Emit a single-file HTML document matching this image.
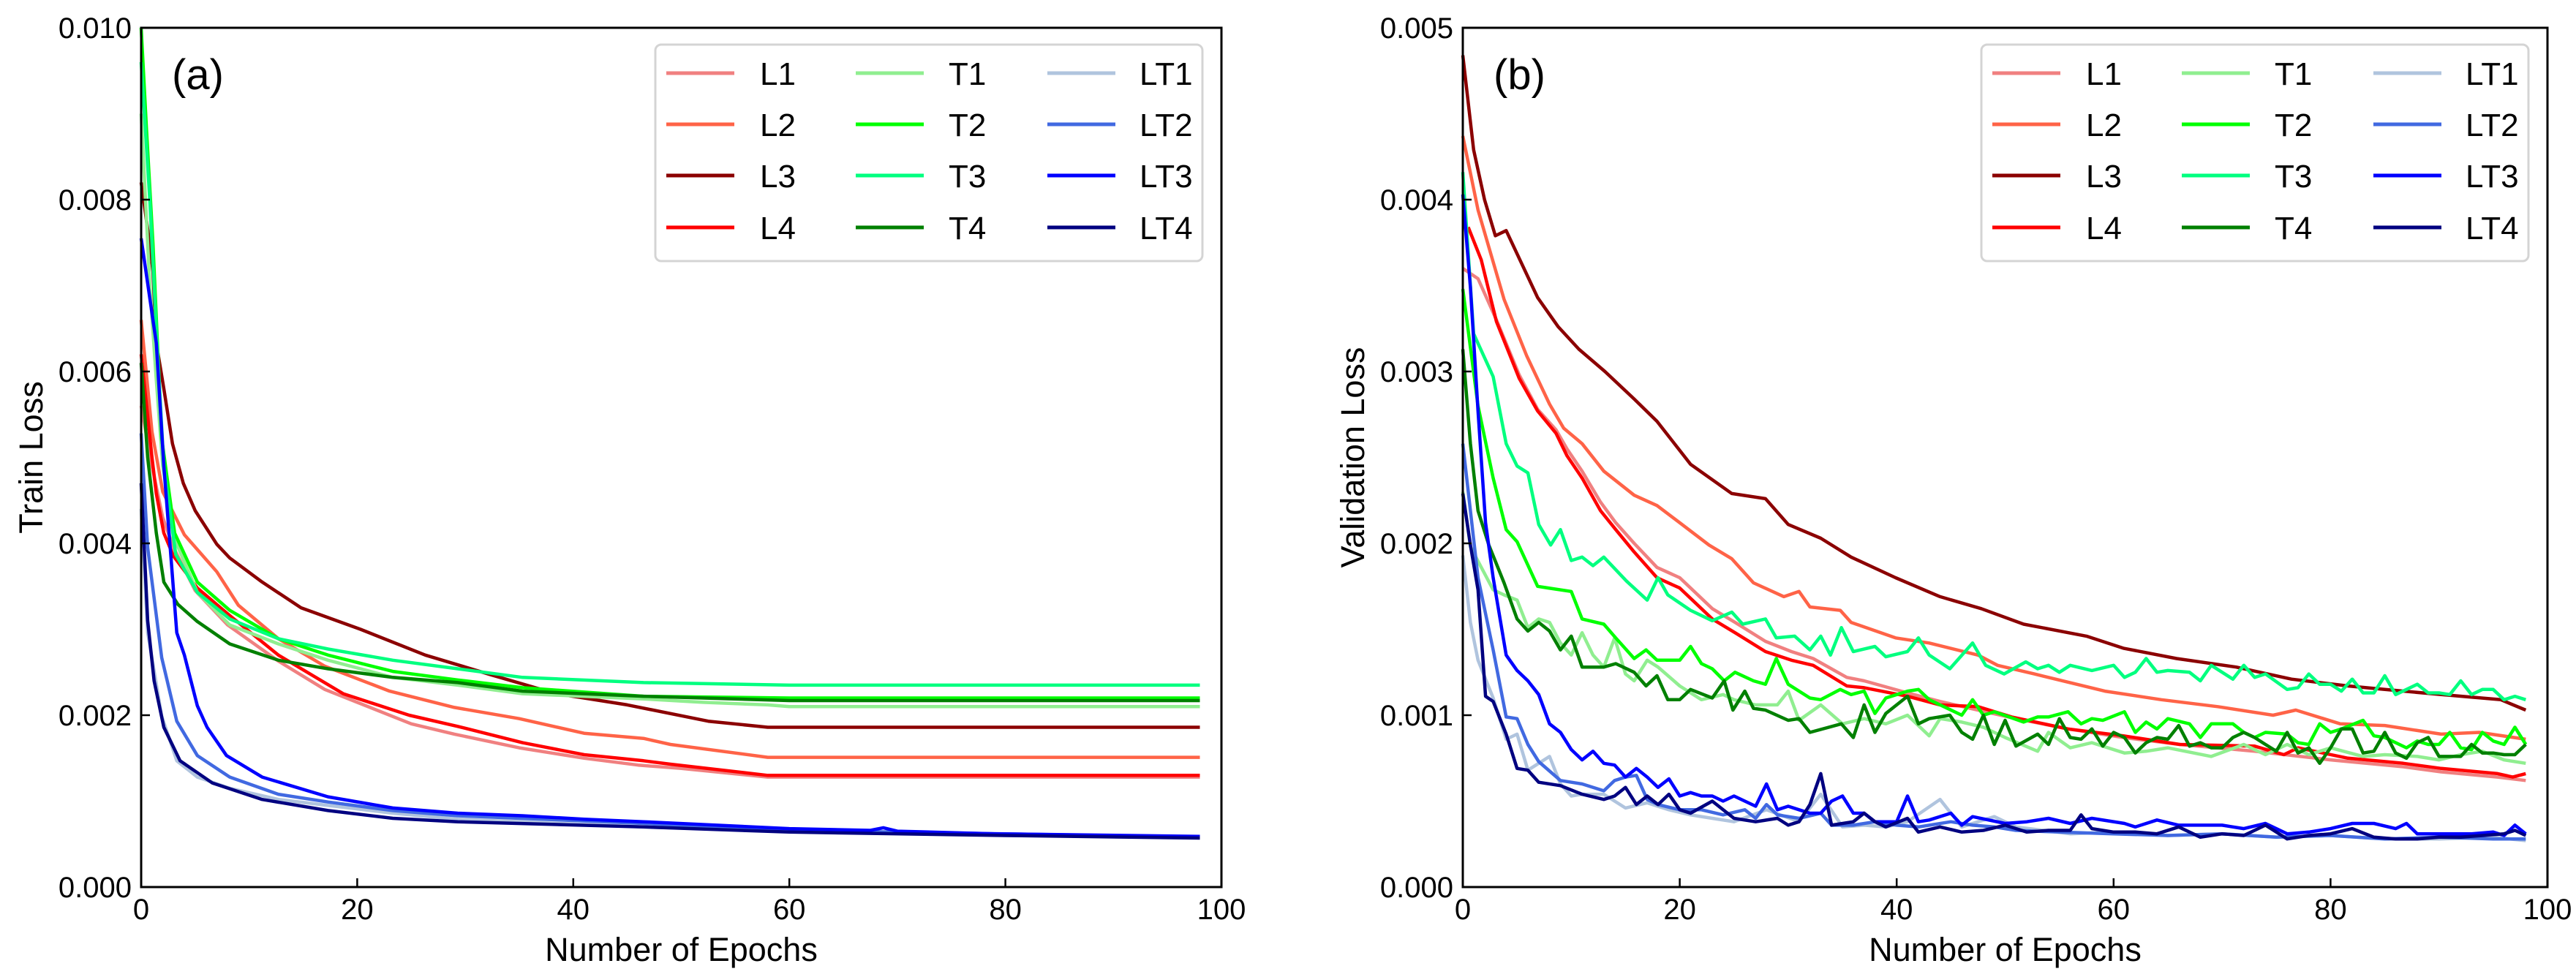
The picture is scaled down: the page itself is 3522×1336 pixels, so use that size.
<!DOCTYPE html>
<html><head><meta charset="utf-8"><style>
html,body{margin:0;padding:0;background:#fff;}
svg{display:block;font-family:"Liberation Sans",sans-serif;}
</style></head><body>
<svg id="fig" width="3522" height="1336" viewBox="0 0 3522 1336" xmlns="http://www.w3.org/2000/svg"></svg>
<script>
// ---------- data (loss values in units of 1e-3) ----------
const seriesNames = ["L1","L2","L3","L4","T1","T2","T3","T4","LT1","LT2","LT3","LT4"];
const seriesColors = ["#F08080","#FF6347","#8B0000","#FF0000","#90EE90","#00FF00","#00FF7F","#008000","#B0C4DE","#4169E1","#0000FF","#000080"];
const xTicks = [0,20,40,60,80,100];
const xTickLabels = ["0","20","40","60","80","100"];
const trainYTicks = [0,2,4,6,8,10];
const trainYTickLabels = ["0.000","0.002","0.004","0.006","0.008","0.010"];
const valYTicks = [0,1,2,3,4,5];
const valYTickLabels = ["0.000","0.001","0.002","0.003","0.004","0.005"];

// Train loss
const trainL1E = [0,1,2,3,5,8,12.7,17,20,25,29,35,41,46,50,58,98];
const trainL1V = [5.6,4.9,4.3,3.95,3.45,3.05,2.63,2.3,2.15,1.9,1.78,1.62,1.5,1.42,1.38,1.28,1.28];
const trainL2E = [0,1,2,4,7,9,12.7,17,23,29,35,41,46.5,49,58,98];
const trainL2V = [6.6,5.3,4.6,4.1,3.67,3.28,2.89,2.57,2.28,2.09,1.96,1.79,1.73,1.66,1.51,1.51];
const trainL3E = [0,0.8,1.1,1.4,2.1,2.9,3.9,5,7,8.2,11.2,14.8,20.3,26.3,32.4,38.4,41,45,52.5,58,98];
const trainL3V = [8.2,7.48,7.16,6.33,5.8,5.16,4.7,4.38,3.99,3.83,3.55,3.25,3.0,2.7,2.47,2.25,2.2,2.12,1.93,1.86,1.86];
const trainL4E = [0,1,1.4,2.1,3,5.2,8.2,12.7,18.7,24.8,29.3,35.3,41,46.5,49,58,98];
const trainL4V = [6.2,5.0,4.58,4.12,3.85,3.48,3.16,2.7,2.25,2.0,1.87,1.68,1.54,1.47,1.43,1.3,1.3];
const trainT1E = [0,0.8,1.4,2,3.1,5.2,8.2,12.7,17.3,23.3,29.3,35.3,46.5,52,58,60,98];
const trainT1V = [9.0,7.0,5.9,4.9,4.05,3.43,3.05,2.83,2.64,2.44,2.35,2.25,2.19,2.15,2.12,2.1,2.1];
const trainT2E = [0,0.5,1.1,1.9,3.1,5.2,8.2,12.7,17.3,23.3,29.3,35.3,46.5,60,98];
const trainT2V = [10.0,8.8,7.48,5.22,4.12,3.55,3.22,2.89,2.7,2.51,2.41,2.32,2.22,2.2,2.2];
const trainT3E = [0,0.8,1.4,2.1,3.2,5.2,8.2,12.7,17.3,23.3,29.3,35.3,46.5,60,98];
const trainT3V = [9.6,8.0,6.5,4.9,3.87,3.43,3.12,2.89,2.77,2.64,2.54,2.44,2.38,2.35,2.35];
const trainT4E = [0,0.6,1.4,2.1,3.4,5.2,8.2,12.7,17.3,23.3,29.3,35.3,46.5,60,98];
const trainT4V = [6.1,5.0,4.12,3.55,3.29,3.09,2.83,2.64,2.54,2.44,2.38,2.28,2.22,2.17,2.17];
const trainLT1E = [0,0.6,1.9,3.3,5.2,8.2,12.7,17.3,23.3,29.3,46.5,60,80,98];
const trainLT1V = [4.4,2.96,1.99,1.47,1.28,1.15,1.02,0.95,0.86,0.79,0.7,0.65,0.61,0.58];
const trainLT2E = [0,0.6,1.9,3.3,5.2,8.2,12.7,17.3,23.3,29.3,46.5,60,80,98];
const trainLT2V = [5.28,3.95,2.67,1.93,1.53,1.28,1.08,0.99,0.89,0.83,0.74,0.66,0.62,0.58];
const trainLT3E = [0,1.4,2.1,2.7,3.3,4,5.2,6.1,7.9,11.2,17.3,23.3,29.3,35.3,41,46.5,60,67.5,68.7,70,79,98];
const trainLT3V = [7.55,6.33,4.9,3.93,2.96,2.7,2.11,1.86,1.53,1.28,1.05,0.92,0.86,0.83,0.79,0.76,0.68,0.66,0.69,0.65,0.62,0.59];
const trainLT4E = [0,0.6,1.2,2.1,3.6,6.6,11.2,17.3,23.3,29.3,46.5,60,80,98];
const trainLT4V = [4.7,3.1,2.4,1.86,1.47,1.21,1.02,0.89,0.8,0.76,0.7,0.64,0.6,0.57];

// Validation loss
const valL1E = [0,1.4,3.1,5.2,6.9,8.6,9.6,11,12.7,14.1,15.8,17.9,20,23,25.1,27.9,30.3,32.3,35.4,37,41,44,47.5,51,55.8,60.9,66.1,73,80,86.7,90.2,95.4,98];
const valL1V = [3.6,3.54,3.3,2.98,2.78,2.66,2.55,2.42,2.24,2.12,2.0,1.86,1.8,1.62,1.54,1.43,1.37,1.33,1.22,1.2,1.13,1.08,1.03,0.98,0.92,0.87,0.83,0.79,0.74,0.7,0.67,0.64,0.62];
const valL2E = [0,1.4,3.8,5.9,8,9.3,11,13,15.8,17.9,20,22.7,24.8,26.8,29.6,31,32,34.8,35.8,39.9,43,47.5,49.3,52.7,59.2,64.4,69.6,74.7,76.8,80.9,85,90.2,93.7,98];
const valL2V = [4.37,3.94,3.42,3.09,2.81,2.67,2.58,2.42,2.28,2.22,2.12,1.99,1.91,1.77,1.69,1.72,1.63,1.61,1.54,1.45,1.42,1.35,1.29,1.24,1.14,1.09,1.05,1.0,1.03,0.95,0.94,0.89,0.9,0.86];
const valL3E = [0,1,2,3,4,6.9,8.8,10.7,13.1,15.8,17.9,21,24.8,27.9,30,33,35.8,39.9,44,47.8,51.7,57.5,60.9,65.8,71.3,76.4,81.6,85,90.2,95.7,98];
const valL3V = [4.84,4.29,4.0,3.79,3.82,3.43,3.26,3.13,3.0,2.84,2.71,2.46,2.29,2.26,2.11,2.03,1.92,1.8,1.69,1.62,1.53,1.46,1.39,1.33,1.28,1.21,1.17,1.15,1.12,1.09,1.03];
const valL4E = [0.5,1.7,3.1,5.2,6.9,8.6,9.6,11,12.7,14.1,15.8,17.9,20,23,25.1,27.9,30.3,32.3,35.4,37,41,44,47.5,50.6,55.8,60.9,66.1,73,75.7,77,81.6,86.7,90.2,95.4,96.8,98];
const valL4V = [3.84,3.65,3.29,2.96,2.77,2.64,2.51,2.38,2.19,2.08,1.95,1.8,1.74,1.56,1.48,1.37,1.32,1.29,1.17,1.16,1.11,1.06,1.05,0.99,0.92,0.88,0.83,0.82,0.77,0.81,0.75,0.72,0.69,0.66,0.64,0.66];
const valT1E = [0,0.7,2.8,3.8,5,6,7,8,9,10,11,12,13,14,15,15.8,17,18,20,22,24,25,27,29,30,31,33,35,37,39,41,43,44,46,48,50,53,54,56,58,61,63,65,69,72,74,76,78,80,83,85,88,90,92,94,96,98];
const valT1V = [2.3,1.98,1.73,1.7,1.67,1.51,1.56,1.54,1.42,1.35,1.48,1.35,1.28,1.45,1.24,1.2,1.32,1.28,1.17,1.09,1.12,1.09,1.06,1.06,1.14,0.97,1.06,0.95,0.98,0.95,1.0,0.88,0.98,0.96,0.93,0.87,0.79,0.9,0.81,0.84,0.78,0.79,0.81,0.76,0.83,0.77,0.83,0.77,0.81,0.76,0.77,0.76,0.74,0.77,0.79,0.74,0.72];
const valT2E = [0,1.4,2.8,4,5,6.9,7.9,10,11,13,14.1,15.8,16.9,17.9,20,21,22,23,24.1,25.1,26.8,27.9,28.9,30,32,33,34.8,35.8,37,38,39,40,41,42,43,44,46,47,48,49,51.7,53,54,55.8,57,58,59,61,62,63,64,65,67,68,69,71,72,73,74,76,77,78,79,80,81,83,84,85,87,88,89,90,91,92,93,94,95,96,97,98];
const valT2V = [3.48,2.8,2.38,2.08,2.01,1.75,1.74,1.72,1.56,1.53,1.45,1.33,1.38,1.32,1.32,1.4,1.3,1.27,1.2,1.25,1.2,1.18,1.33,1.18,1.1,1.09,1.15,1.12,1.14,1.01,1.1,1.12,1.14,1.15,1.09,1.06,1.0,1.09,1.0,1.02,0.96,0.99,0.99,1.02,0.95,0.98,0.97,1.02,0.9,0.96,0.92,0.98,0.95,0.87,0.95,0.95,0.9,0.87,0.9,0.89,0.84,0.83,0.95,0.9,0.92,0.97,0.88,0.87,0.81,0.85,0.83,0.83,0.9,0.81,0.8,0.9,0.85,0.83,0.93,0.83];
const valT3E = [0,1,2.8,4,5,6,7,8.1,9,10,11,12,13,15.1,17,18,18.9,21,23,24.8,25.8,27.9,28.9,30.6,32,33,33.9,34.9,36,38,39,41,42,43,44.9,47,48.2,49.9,51.9,53,54,55,56,58,60,61,62,63,64,65,67,68,69,71,72,73,74,76,77,78,79,80,81,82,83,84,85,86,87,88,89,90,91,92,93,94,95,96,97,98];
const valT3V = [4.16,3.22,2.97,2.58,2.45,2.41,2.11,1.99,2.08,1.9,1.92,1.87,1.92,1.78,1.67,1.8,1.7,1.61,1.55,1.6,1.53,1.56,1.45,1.46,1.38,1.46,1.35,1.51,1.37,1.4,1.34,1.37,1.45,1.35,1.27,1.42,1.29,1.24,1.31,1.27,1.29,1.25,1.29,1.26,1.29,1.22,1.25,1.33,1.25,1.26,1.25,1.2,1.29,1.21,1.29,1.22,1.24,1.15,1.16,1.24,1.18,1.18,1.14,1.21,1.13,1.13,1.23,1.12,1.15,1.18,1.13,1.13,1.12,1.2,1.12,1.15,1.15,1.09,1.11,1.09];
const valT4E = [0,0.7,1.4,2.4,3.8,5,6,7,8,9,10,11,13,14.1,15.8,16.9,17.9,18.9,20,21,23,24.1,24.9,26,26.8,27.9,30,31,32,34.9,36,37,38,39,41,42,43,44.9,46,47,48,49,50,51,53,54,55,56,57,58,59,60,61,62,63,64,65,66,67,68,69,70,71,72,73,74,75,76,77,78,79,80,81,82,83,84,85,86,87,88,89,90,91,92,93,94,95,96,97,98];
const valT4V = [3.13,2.58,2.19,1.99,1.77,1.56,1.49,1.54,1.49,1.38,1.46,1.28,1.28,1.3,1.25,1.17,1.23,1.09,1.09,1.15,1.1,1.2,1.03,1.14,1.04,1.03,0.97,0.98,0.9,0.95,0.87,1.06,0.9,1.01,1.11,0.95,0.98,1.0,0.9,0.86,1.0,0.83,0.97,0.82,0.89,0.83,0.98,0.87,0.86,0.92,0.82,0.9,0.87,0.78,0.84,0.87,0.86,0.94,0.82,0.84,0.81,0.81,0.87,0.9,0.87,0.83,0.79,0.9,0.78,0.81,0.72,0.81,0.92,0.92,0.78,0.79,0.9,0.78,0.75,0.84,0.87,0.76,0.76,0.76,0.83,0.78,0.78,0.77,0.77,0.83];
const valLT1E = [0,0.7,1.4,2.8,4,5,6,7,8,9,10,11,13,15,17,19,21,23,25,28,31,33,35,37,39,41,44,46,49,51,56,60,65,70,75,80,85,90,95,98];
const valLT1V = [1.93,1.54,1.32,1.1,0.86,0.89,0.68,0.72,0.76,0.6,0.53,0.54,0.54,0.46,0.49,0.45,0.42,0.4,0.38,0.45,0.38,0.54,0.35,0.36,0.35,0.38,0.51,0.35,0.41,0.35,0.31,0.32,0.3,0.31,0.29,0.3,0.28,0.28,0.29,0.27];
const valLT2E = [0,1.4,2.8,4,5,6,7,9,11,13,14,15,16,17,18,20,22,24,26,27,28,29,31,33,34,36,38,40,42,45,47,49,51,55,60,65,70,75,80,85,90,95,98];
const valLT2V = [2.58,1.8,1.38,0.99,0.98,0.83,0.73,0.62,0.6,0.56,0.62,0.64,0.65,0.51,0.48,0.45,0.45,0.42,0.45,0.4,0.48,0.42,0.4,0.43,0.36,0.36,0.38,0.36,0.35,0.38,0.36,0.35,0.33,0.32,0.31,0.3,0.31,0.29,0.3,0.28,0.29,0.28,0.28];
const valLT3E = [0,0.7,1.4,2.1,2.8,4,5,6,7,8,9,10,11,12,13,14,15,16,17,18,19,20,21,22,23,24,25,26,27,28,29,30,31,32,33,34,35,36,37,38,39,40,41,42,43,45,46,47,50,52,54,56,58,61,62,64,66,68,70,72,74,76,78,80,82,84,86,87,88,91,93,95,96,97,98];
const valLT3V = [4.03,3.49,2.77,2.12,1.8,1.35,1.26,1.2,1.12,0.95,0.9,0.8,0.74,0.79,0.72,0.71,0.64,0.69,0.64,0.58,0.63,0.53,0.55,0.53,0.53,0.5,0.53,0.5,0.47,0.6,0.45,0.47,0.45,0.43,0.43,0.5,0.53,0.43,0.43,0.38,0.38,0.38,0.53,0.38,0.39,0.43,0.36,0.41,0.37,0.38,0.4,0.37,0.4,0.37,0.35,0.39,0.36,0.36,0.36,0.34,0.37,0.31,0.32,0.34,0.37,0.37,0.34,0.37,0.31,0.31,0.31,0.32,0.3,0.36,0.31];
const valLT4E = [0,0.7,1.4,2.1,2.8,4,5,6,7,9,11,13,14,15,16,17,18,19,20,21,23,24,25,27,29,30,31,32,33,34,36,37,38,39,41,42,44,46,48,50,52,54,56,57,58,60,62,64,66,68,70,72,74,76,78,80,82,84,86,88,90,92,94,96,97,98];
const valLT4V = [2.29,1.99,1.73,1.11,1.08,0.89,0.69,0.68,0.61,0.59,0.54,0.51,0.53,0.58,0.48,0.53,0.48,0.54,0.45,0.43,0.5,0.45,0.4,0.38,0.4,0.36,0.38,0.48,0.66,0.36,0.38,0.43,0.38,0.35,0.4,0.32,0.35,0.32,0.33,0.36,0.32,0.33,0.33,0.42,0.34,0.32,0.32,0.31,0.35,0.29,0.31,0.3,0.36,0.28,0.3,0.31,0.34,0.29,0.28,0.28,0.29,0.29,0.3,0.31,0.33,0.3];

const trainEpochs = [trainL1E,trainL2E,trainL3E,trainL4E,trainT1E,trainT2E,trainT3E,trainT4E,trainLT1E,trainLT2E,trainLT3E,trainLT4E];
const trainValues = [trainL1V,trainL2V,trainL3V,trainL4V,trainT1V,trainT2V,trainT3V,trainT4V,trainLT1V,trainLT2V,trainLT3V,trainLT4V];
const valEpochs = [valL1E,valL2E,valL3E,valL4E,valT1E,valT2E,valT3E,valT4E,valLT1E,valLT2E,valLT3E,valLT4E];
const valValues = [valL1V,valL2V,valL3V,valL4V,valT1V,valT2V,valT3V,valT4V,valLT1V,valLT2V,valLT3V,valLT4V];

// ---------- drawing ----------
const NS = "http://www.w3.org/2000/svg";
const svg = document.getElementById("fig");
function mk(tag, attrs, parent){
  const e = document.createElementNS(NS, tag);
  for (const k in attrs) e.setAttribute(k, attrs[k]);
  (parent||svg).appendChild(e);
  return e;
}

function drawPanel(p){
  const g = mk("g", {});
  
  
  const X = v => p.x0 + (v - 0) / 100 * (p.x1 - p.x0);
  const Y = v => p.y1 - v / p.ymax * (p.y1 - p.y0);

  // series
  const sg = mk("g", {}, g);
  
  
  for (let s = 0; s < seriesNames.length; s++){
    const es = p.epochs[s], vs = p.values[s];
    const n = Math.min(es.length, vs.length);
    let d = "";
    for (let i = 0; i < n; i++){
      d += (i ? "L" : "M") + X(es[i]).toFixed(1) + "," + Y(vs[i]).toFixed(1);
    }
    const path = mk("path", {d: d, fill: "none", stroke: seriesColors[s], "stroke-width": 4.5, "stroke-linejoin": "round", "stroke-linecap": "butt"}, sg);
    
    
  }

  // frame
  const frame = mk("rect", {x: p.x0, y: p.y0, width: p.x1 - p.x0, height: p.y1 - p.y0, fill: "none", stroke: "#000", "stroke-width": 3}, g);
  
  

  // x ticks
  for (let i = 0; i < xTicks.length; i++){
    const x = X(xTicks[i]);
    const t = mk("line", {x1: x, x2: x, y1: p.y1, y2: p.y1 - 12, stroke: "#000", "stroke-width": 2.5}, g);
    
    
    const lb = mk("text", {x: x, y: p.y1 + 44, "font-size": 40, "text-anchor": "middle", fill: "#000"}, g);
    lb.textContent = xTickLabels[i];
    
    
  }
  // y ticks
  for (let i = 0; i < p.yTicks.length; i++){
    const y = Y(p.yTicks[i]);
    const t = mk("line", {x1: p.x0, x2: p.x0 + 12, y1: y, y2: y, stroke: "#000", "stroke-width": 2.5}, g);
    
    
    const lb = mk("text", {x: p.x0 - 13, y: y + 14, "font-size": 40, "text-anchor": "end", fill: "#000"}, g);
    lb.textContent = p.yLabels[i];
    
    
  }
  // axis titles
  const xt = mk("text", {x: (p.x0 + p.x1) / 2, y: 1314, "font-size": 45, "text-anchor": "middle", fill: "#000"}, g);
  xt.textContent = "Number of Epochs";
  
  
  const cy = (p.y0 + p.y1) / 2;
  const yt = mk("text", {x: p.ytx, y: cy, "font-size": 45, "text-anchor": "middle", fill: "#000", transform: "rotate(-90 " + p.ytx + " " + cy + ")"}, g);
  yt.textContent = p.yTitle;
  
  
  // panel label
  const pl = mk("text", {x: p.x0 + 42, y: 122, "font-size": 58, fill: "#000"}, g);
  pl.textContent = p.label;
  
  

  // legend
  const R = p.x1;
  const lg = mk("g", {}, g);
  
  
  const box = mk("rect", {x: R - 774, y: 61, width: 748, height: 296, rx: 8, fill: "#fff", stroke: "#d4d4d4", "stroke-width": 3}, lg);
  
  
  const colHandle = [R - 759, R - 500, R - 238];
  const colText = [R - 631, R - 373, R - 112];
  const rowY = [100, 170, 240, 311];
  for (let s = 0; s < seriesNames.length; s++){
    const c = Math.floor(s / 4), r = s % 4;
    const eg = mk("g", {}, lg);
    
    
    mk("line", {x1: colHandle[c], x2: colHandle[c] + 93, y1: rowY[r], y2: rowY[r], stroke: seriesColors[s], "stroke-width": 5}, eg);
    const tx = mk("text", {x: colText[c], y: rowY[r] + 16, "font-size": 44, fill: "#000"}, eg);
    tx.textContent = seriesNames[s];
  }
}

drawPanel({key: "train", x0: 193, x1: 1670, y0: 38, y1: 1213, ymax: 10, yTicks: trainYTicks, yLabels: trainYTickLabels,
  epochs: trainEpochs, values: trainValues, yTitle: "Train Loss", ytx: 58, label: "(a)"});
drawPanel({key: "validation", x0: 2000, x1: 3483, y0: 38, y1: 1213, ymax: 5, yTicks: valYTicks, yLabels: valYTickLabels,
  epochs: valEpochs, values: valValues, yTitle: "Validation Loss", ytx: 1865, label: "(b)"});
</script>
</body></html>
